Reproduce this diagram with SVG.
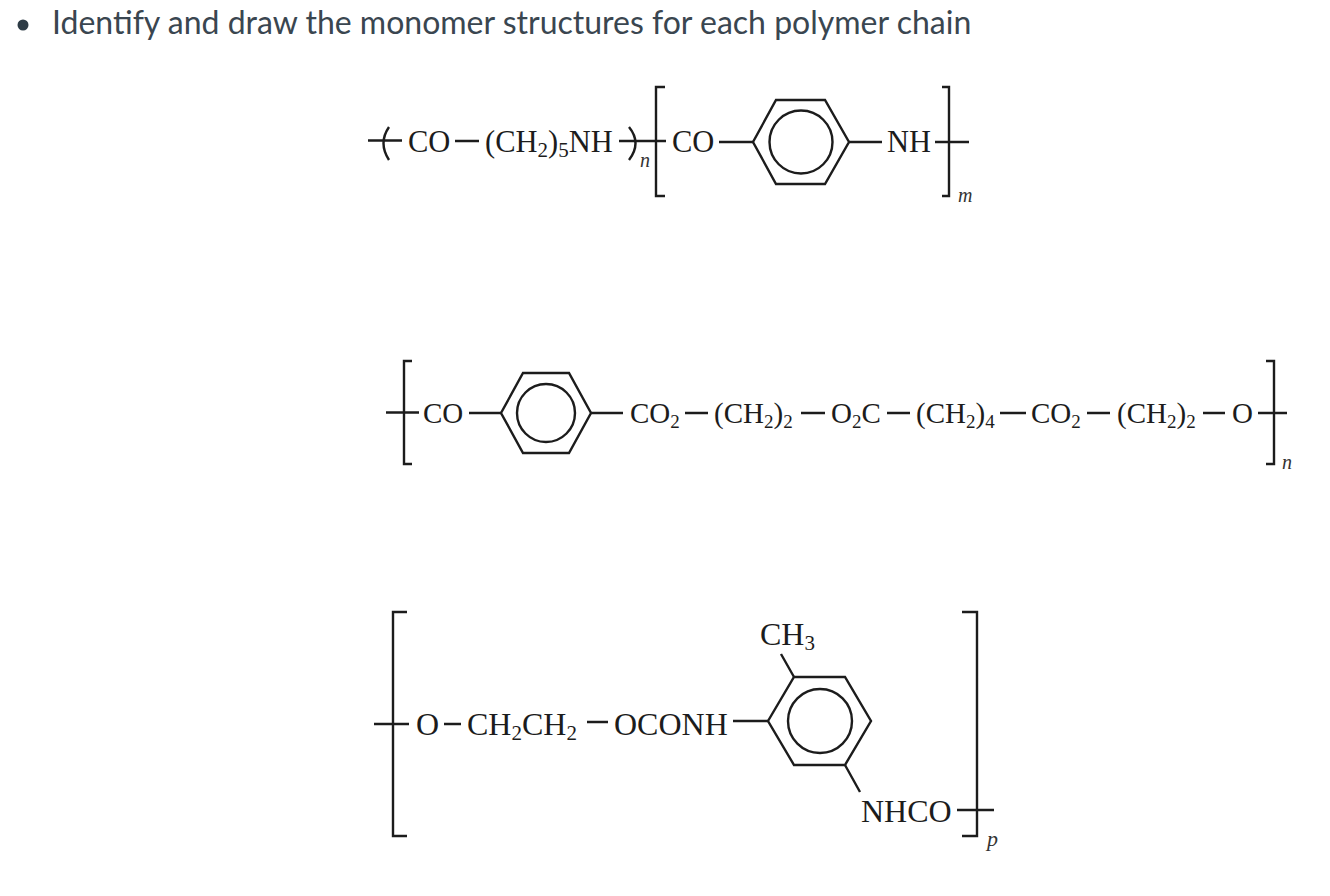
<svg xmlns="http://www.w3.org/2000/svg" width="1330" height="896" viewBox="0 0 1330 896">
<style>
text{font-family:"Liberation Serif","Times New Roman",serif;fill:#1c1c1c}
.m{font-size:29px}.a{font-size:30.500px}.b{font-size:32px}.i{font-style:italic;font-size:20px;fill:#333}
.h{font-family:Lato,"Noto Sans",sans-serif;font-size:32px;fill:#3a4650}
.l{fill:none;stroke:#1c1c1c;stroke-width:2.400}
</style>
<rect width="1330" height="896" fill="#fff"/>
<g id="heading">
<circle cx="23" cy="25" r="5.500" fill="#2d3b45"/>
<text class="h" x="52" y="34">Identify and draw the monomer structures for each polymer chain</text>
</g>
<g id="polymer1">
<path class="l" d="M368 140.500H402M389 127Q378 143 389 160M455 141H479M619 141H666M629 127Q642 143 629 160M665 87H656V196H665M719 142H753M849 142H882M935 142H969M942 87H949V196H942"/>
<path class="l" d="M753 142L776 100H825L849 142L825 184H776Z"/>
<circle class="l" cx="801" cy="142" r="31.500"/>
<text class="a" x="408" y="151.500">CO</text>
<text class="a" x="485" y="151.500">(CH<tspan font-size="21" dy="5">2</tspan><tspan dy="-5">)</tspan><tspan font-size="21" dy="5">5</tspan><tspan dy="-5">NH</tspan></text>
<text class="i" x="640" y="167">n</text>
<text class="a" x="672" y="152">CO</text>
<text class="a" x="887" y="152">NH</text>
<text class="i" x="958" y="202">m</text>
</g>
<g id="polymer2">
<path class="l" d="M412 361H404V464H412M386 412.500H419M469 413H501M591 413H623M685 413H708M801 413H825M887 413H910M1000 413H1026M1087 413H1110M1203 413H1225M1258 413H1287M1266 361H1274V464H1266"/>
<path class="l" d="M501 413L523 373H569L591 413L569 453H523Z"/>
<circle class="l" cx="546" cy="413" r="29"/>
<text class="m" x="423" y="423">CO</text>
<text class="m" x="630" y="423">CO<tspan font-size="19" dy="5">2</tspan></text>
<text class="m" x="714" y="423">(CH<tspan font-size="19" dy="5">2</tspan><tspan dy="-5">)</tspan><tspan font-size="19" dy="5">2</tspan></text>
<text class="m" x="831" y="423">O<tspan font-size="19" dy="5">2</tspan><tspan dy="-5">C</tspan></text>
<text class="m" x="916" y="423">(CH<tspan font-size="19" dy="5">2</tspan><tspan dy="-5">)</tspan><tspan font-size="19" dy="5">4</tspan></text>
<text class="m" x="1031" y="423">CO<tspan font-size="19" dy="5">2</tspan></text>
<text class="m" x="1117" y="423">(CH<tspan font-size="19" dy="5">2</tspan><tspan dy="-5">)</tspan><tspan font-size="19" dy="5">2</tspan></text>
<text class="m" x="1232" y="423">O</text>
<text class="i" x="1282" y="469">n</text>
</g>
<g id="polymer3">
<path class="l" d="M407 612H393V836H407M374 724H409M444 724H461M587 722H608M733 721H768M781 654L794 677M845 765L860 792M957 810H994M962 612H977V836H962"/>
<path class="l" d="M768 721L794 677H845L871 721L845 765H794Z"/>
<circle class="l" cx="820" cy="721" r="32"/>
<text class="b" x="416" y="735">O</text>
<text class="b" x="467" y="735">CH<tspan font-size="21" dy="5">2</tspan><tspan dy="-5">CH</tspan><tspan font-size="21" dy="5">2</tspan></text>
<text class="b" x="614" y="735">OCONH</text>
<text class="b" x="760" y="645">CH<tspan font-size="21" dy="5">3</tspan></text>
<text class="b" x="861" y="822">NHCO</text>
<text class="i" x="987" y="846" style="font-size:22px">p</text>
</g>
</svg>
